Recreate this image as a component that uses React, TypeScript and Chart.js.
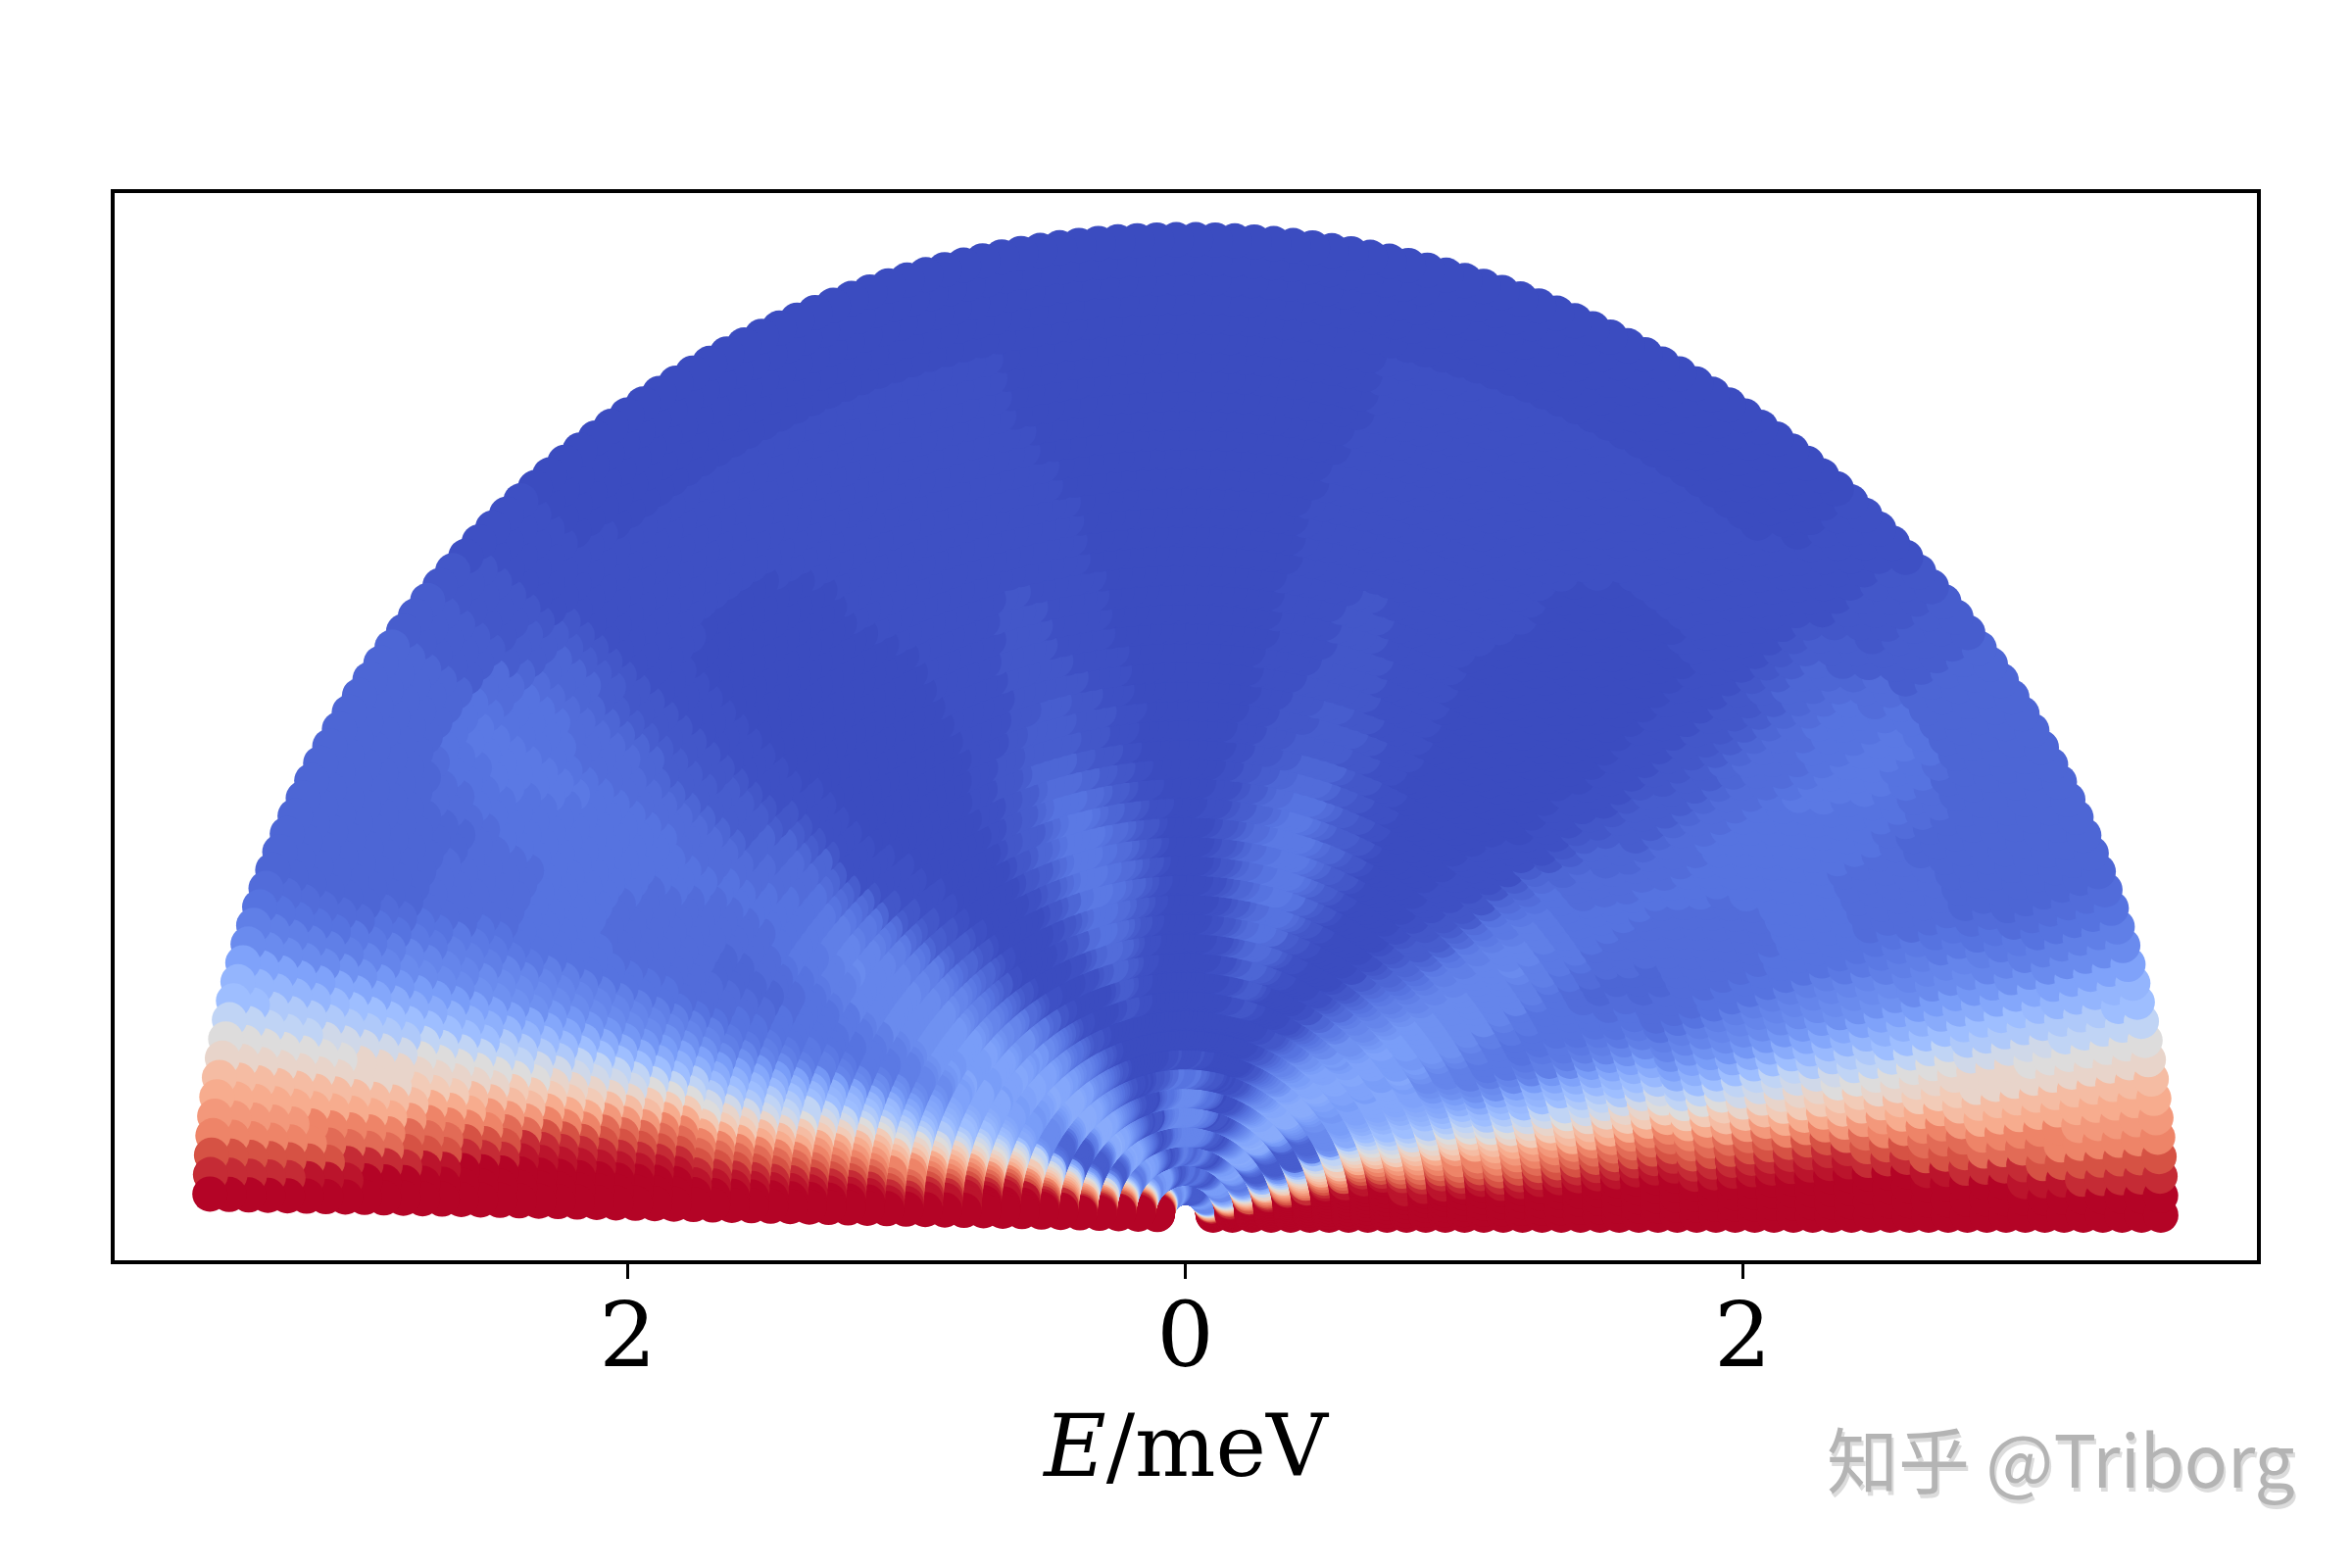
import { useEffect, useRef } from 'react';
import Chart from 'chart.js/auto';

// Polar grid of the scatter, in draw order (energy rings from the inside out, theta along each ring)
const thetas = [
  0, 0.02, 0.04, 0.06, 0.08, 0.1, 0.12, 0.14, 0.16, 0.18, 0.2, 0.22, 0.24, 0.26, 0.28, 0.3, 0.32, 0.34, 0.36, 0.38,
  0.4, 0.42, 0.44, 0.46, 0.48, 0.5, 0.52, 0.54, 0.56, 0.58, 0.6, 0.62, 0.64, 0.66, 0.68, 0.7, 0.72, 0.74, 0.76, 0.78,
  0.8, 0.82, 0.84, 0.86, 0.88, 0.9, 0.92, 0.94, 0.96, 0.98, 1, 1.02, 1.04, 1.06, 1.08, 1.1, 1.12, 1.14, 1.16, 1.18,
  1.2, 1.22, 1.24, 1.26, 1.28, 1.3, 1.32, 1.34, 1.36, 1.38, 1.4, 1.42, 1.44, 1.46, 1.48, 1.5, 1.52, 1.54, 1.56, 1.58,
  1.6, 1.62, 1.64, 1.66, 1.68, 1.7, 1.72, 1.74, 1.76, 1.78, 1.8, 1.82, 1.84, 1.86, 1.88, 1.9, 1.92, 1.94, 1.96, 1.98,
  2, 2.02, 2.04, 2.06, 2.08, 2.1, 2.12, 2.14, 2.16, 2.18, 2.2, 2.22, 2.24, 2.26, 2.28, 2.3, 2.32, 2.34, 2.36, 2.38,
  2.4, 2.42, 2.44, 2.46, 2.48, 2.5, 2.52, 2.54, 2.56, 2.58, 2.6, 2.62, 2.64, 2.66, 2.68, 2.7, 2.72, 2.74, 2.76, 2.78,
  2.8, 2.82, 2.84, 2.86, 2.88, 2.9, 2.92, 2.94, 2.96, 2.98, 3, 3.02, 3.04, 3.06, 3.08, 3.1, 3.12,
];
const energies = [
  0.1, 0.169, 0.239, 0.308, 0.378, 0.447, 0.516, 0.586, 0.655, 0.724, 0.794, 0.863, 0.933, 1.002, 1.071, 1.141, 1.21,
  1.28, 1.349, 1.418, 1.488, 1.557, 1.627, 1.696, 1.765, 1.835, 1.904, 1.973, 2.043, 2.112, 2.182, 2.251, 2.32, 2.39,
  2.459, 2.529, 2.598, 2.667, 2.737, 2.806, 2.876, 2.945, 3.014, 3.084, 3.153, 3.222, 3.292, 3.361, 3.431, 3.5,
];
const xTicks = [-2, 0, 2];

// colour value per level character below
const levelKeys = '0123456789abcdefghijklmnopqrstuvwxyz';
const levelValues = [
  0, 0.01, 0.025, 0.04, 0.06, 0.075, 0.09, 0.105, 0.12, 0.135, 0.15, 0.165, 0.18, 0.195, 0.21, 0.225, 0.24, 0.255,
  0.27, 0.285, 0.3, 0.35, 0.4, 0.45, 0.5, 0.55, 0.6, 0.65, 0.7, 0.75, 0.8, 0.85, 0.9, 0.95, 0.98, 1,
];

// one line per ray from theta = 0 up to the vertical, one level per energy
const rayLevels = [
  'zzzzz zzzzz zzzzz zzzzz zzzzz zzzzz zzzzz zzzzz zzzzz zzzzz',
  'zzzzz zzzzz zzzzz zzzzz zzzzz zzzzz zzzzz zzzzz zzzzz zzzzz',
  'zzzzz zzzzz zzzzz zzzzz zzzzz zzzzz zzzzz zzzzz zzyyy xxxxx',
  'zzzzz zzzzz zzzzz zzzzz zzzzz zzzzz zzzzz zzyyx xxxww wwwww',
  'zzzzz zzzzz yyyyy yyyyy yyyyy yyyyy yyyyx xxwww vvvvu uuuuu',
  'zzzzz zzzzz yyyxx xxxxx xxxxx xxxxx xxxxw wwvvv uuuuu ttttt',
  'zzzzz zzzzz yxxww wwwww wwwww wwwww wwwvv uuuut sssss sssss',
  'zzzyx xyyyy xwwvv vvvvv vvvvv vvvvv uuutt tsssr rrrrr rrrrr',
  'zzyxw xxyyx wvvuu uuuuu uuuuu uuttt sssrr rrqqq ppppp ppppp',
  'zywwv vwwxw vuuuu tttts sssss ssrrr qqqqq ppppp pppoo ooooo',
  'zxwvu uvvwv uttts ssssr rrqqq qqqpp pppoo ooooo nnnnn mmmmm',
  'yxvut tuuvu tssrr rrqqq ppppo ooonn nnnnm mmmmm lllll lllkk',
  'xwuts sstut srqqq qpppo nnnnn mmmmm mmlll lkkkk kkkkj iiiii',
  'xvtrq rrrsr qqppo oonnm mmlll lkkkk kkjji ihhhg ggfff eeeee',
  'wuspp qqqrq ppoon nmmmm llkkj hhggg ggfff eeedd dccbb aaaaa',
  'vtrpo ppqqp onnmm llkkk kjihg eedcc ccccb bbbaa aa998 88888',
  'usqnm noopo nmlll kkjii hgfed bbbaa aaaaa aaa99 99877 66666',
  'urpnl mnnon mllkk jihhf edcba 99999 99999 99888 77665 55555',
  'tqoki klmnm lkkih gfedc aa998 88888 88888 77777 66554 44444',
  'spmid flmml kkigf dba98 88877 66666 66666 66665 55444 44444',
  'solfb dhkkk kjhfd ba988 77766 55566 66666 66555 55444 44444',
  'rnj96 47cgj ihgeb a8777 76666 55555 55666 66555 55444 44444',
  'qmg84 36bgh hgfca 87766 66655 55555 55566 66555 55444 44444',
  'ple53 35afg gfeb9 87766 66655 44555 55566 66555 54444 44444',
  'okb43 34aef ffea9 87766 66544 44555 55566 66555 54444 44444',
  'nja33 34ade ffea9 88777 66544 44555 55566 66666 55554 44444',
  'mh933 34ade ffdba 98877 66555 55555 55666 66666 66554 44444',
  'lf833 34ade ffecb a9887 76655 55555 55666 66666 66665 44444',
  'ie733 34ade fffdc baa99 87665 55555 66666 66666 77666 44444',
  'fd733 35acd dddcc baa99 88776 55556 66666 66677 77776 44444',
  'da844 47bcd eddcc baa99 88776 66666 66666 66777 77776 44444',
  'ca855 7abde edddc baa99 98776 66665 55666 66666 66666 44444',
  'ba866 8bcde eeddc baa99 a9876 66555 55555 55556 66655 33333',
  'aa988 9cdee eeddc baa99 99876 65555 55555 55555 66655 33333',
  'aabaa cdeef feedc baa99 99876 55544 44444 45555 55543 33333',
  'abcdc defff feedc ba999 98876 55443 33333 44444 44433 22222',
  'acdef fgggf eedcb a9988 87766 55443 33333 33333 44433 22222',
  'acdeg ggggf edcba 99888 77655 44433 33222 22223 33332 22221',
  'acdfg gggfe dcba9 98877 66544 43322 22222 22222 22221 11111',
  'acefg gggfe cba98 87765 54433 22221 11111 11111 11111 11111',
  'adfgh gggfe dba98 76544 32211 11111 11111 11111 11111 11111',
  'adefg gggfe cb987 65433 22111 11111 11111 11111 11111 11111',
  'bdefg gffed cb976 54332 21111 11110 00000 00011 11111 10000',
  'bdeff ffedc a9865 44322 11111 00000 00000 00011 11111 10000',
  'cdeff ffedb a8754 43321 11110 00000 00000 00001 11111 00000',
  'cddff feecb 97543 32211 11100 00000 00000 00001 11111 00000',
  'cddee edcba 87533 22111 10000 00000 00000 00001 11111 00000',
  'ddddd dcba8 75421 11100 00000 00000 00000 00001 11111 00000',
  'ddccc cba97 64321 10000 00000 00000 00000 00001 11111 00000',
  'dcbbb bba96 54210 00000 00000 00000 00000 00001 11111 00000',
  'dbaaa aa986 42100 00000 00000 00000 00000 00011 11111 00000',
  'd9999 99875 32100 00000 00000 00000 00000 00011 11111 00000',
  'c8888 88764 21100 00000 00000 00000 00000 00111 11111 00000',
  'b7777 77653 11000 00000 00000 00000 00001 11111 11111 00000',
  'b6666 66542 10000 00000 00000 00000 00011 11111 11111 00000',
  'a5555 55432 10000 00111 11110 00000 00111 11111 11111 00000',
  '95444 44332 00001 11122 21111 11111 11111 11111 11111 00000',
  '94333 33221 00011 12222 22111 11111 11111 11111 11111 00000',
  '83322 22211 00112 22333 32221 11111 11111 11111 11111 00000',
  '73222 22110 00112 23334 33222 11111 11111 11111 11111 00000',
  '72111 11000 00123 34444 33322 21111 11111 11111 11111 00000',
  '62222 11000 00233 44555 44332 22111 11111 11111 11111 00000',
  '53222 11000 11345 56666 55443 32222 11111 11111 11111 00000',
  '53332 10000 12345 66777 66543 32222 22111 11111 11111 00000',
  '43332 11000 23456 67777 76543 33222 22211 11111 11111 00000',
  '33331 00000 23456 67777 76543 33222 22211 11111 11111 00000',
  '34445 31000 23456 67777 76543 33222 22111 11111 11111 00000',
  '34566 42000 12345 56667 65433 22221 11111 11111 11111 00000',
  '35677 52000 11345 56666 55432 22211 11111 11111 10000 00000',
  '35777 62000 11234 45555 44322 22111 11111 11110 00000 00000',
  '36888 63000 01123 34555 43322 21111 11111 11000 00000 00000',
  '36889 63000 00112 34444 33221 11111 11100 00000 00000 00000',
  '36899 74100 00112 23333 32211 11110 00000 00000 00000 00000',
  '3679a 85100 00011 12222 21111 10000 00000 00000 00000 00000',
  '3669a 95100 00001 11222 11100 00000 00000 00000 00000 00000',
  '3669a a7200 00000 01111 11000 00000 00000 00000 00000 00000',
  '3569a a7100 00000 00000 10000 00000 00000 00000 00000 00000',
  '3459a a6100 00000 00000 00000 00000 00000 00000 00000 00000',
  '3449a a6100 00000 00000 00000 00000 00000 00000 00000 00000',
];

// rays by which each ring sits turned anticlockwise against the mirrored table
const ringTurn = [
  5, 5, 5, 5, 5, 4, 4, 3, 3, 3, 2, 2, 2, 2, 2, 1, 1, 1, 1, 1, 1, 1, 1, 1, 1,
  0, 0, 0, 0, 0, 0, 0, 0, 0, 0, 0, 0, 0, 0, 0, 0, 0, 0, 0, 0, 0, 0, 0, 0, 0,
];

// matplotlib coolwarm, 11 stops
const coolwarm = [
  [59, 76, 192], [89, 119, 227], [123, 159, 249], [158, 190, 255], [192, 212, 245], [221, 220, 220],
  [242, 203, 183], [247, 172, 142], [238, 132, 104], [214, 82, 68], [180, 4, 38],
];

function colorOf(v: number) {
  const p = v * 10;
  const k = Math.min(Math.floor(p), 9);
  const t = p - k;
  const c = coolwarm[k].map((a, n) => Math.round(a + (coolwarm[k + 1][n] - a) * t));
  return `rgb(${c[0]},${c[1]},${c[2]})`;
}

// the left half mirrors the right one, so theta index i reuses ray 157 - i
function levelAt(i: number, j: number, rays: string[]) {
  const k = Math.max(i - ringTurn[j], 0);
  return rays[k < rays.length ? k : thetas.length - k][j];
}

const framePlugin = {
  id: 'frame',
  afterDraw(chart: any) {
    const { ctx, chartArea: a } = chart;
    ctx.save();
    ctx.strokeStyle = '#000';
    ctx.lineWidth = 4;
    ctx.strokeRect(a.left, a.top, a.right - a.left, a.bottom - a.top);
    ctx.restore();
  },
};

export default function App() {
  const canvasRef = useRef<HTMLCanvasElement>(null);

  useEffect(() => {
    if (!canvasRef.current) return;

    const rays = rayLevels.map((line) => line.replace(/ /g, ''));
    const points: { x: number; y: number }[] = [];
    const colors: string[] = [];
    energies.forEach((e, j) => {
      thetas.forEach((theta, i) => {
        points.push({ x: e * Math.cos(theta), y: e * Math.sin(theta) });
        colors.push(colorOf(levelValues[levelKeys.indexOf(levelAt(i, j, rays))]));
      });
    });

    const chart = new Chart(canvasRef.current, {
      type: 'scatter',
      data: {
        datasets: [{
          data: points,
          pointRadius: 18,
          pointBorderWidth: 0,
          pointBackgroundColor: colors,
          clip: false,
        }],
      },
      options: {
        animation: false,
        responsive: false,
        devicePixelRatio: 1,
        layout: { padding: { left: 115, right: 95, top: 195, bottom: 0 } },
        plugins: { legend: { display: false }, tooltip: { enabled: false } },
        scales: {
          x: {
            type: 'linear',
            min: -3.848,
            max: 3.852,
            afterFit: (box: any) => { box.height = 312; },
            afterBuildTicks: (axis: any) => { axis.ticks = xTicks.map((value) => ({ value })); },
            border: { display: false },
            grid: { drawOnChartArea: false, drawTicks: true, tickLength: 17, color: '#000', lineWidth: 3 },
            ticks: {
              callback: (v: any) => String(Math.abs(Number(v))),
              color: '#000',
              padding: 10,
              maxRotation: 0,
              autoSkip: false,
              font: { family: '"DejaVu Serif"', size: 92 },
            },
          },
          y: { type: 'linear', min: -0.169, max: 3.674, display: false },
        },
      },
      plugins: [framePlugin],
    });

    return () => chart.destroy();
  }, []);

  return (
    <div style={{ position: 'fixed', left: 0, top: 0, width: 2400, height: 1600, background: '#fff', overflow: 'hidden' }}>
      <canvas ref={canvasRef} width={2400} height={1600} style={{ display: 'block' }} />
      <div style={{ position: 'absolute', left: 1010, width: 400, top: 1422, textAlign: 'center', fontFamily: '"DejaVu Serif"', fontSize: 87, lineHeight: '108px', color: '#000' }}>
        <i>E</i>/meV
      </div>
      <div style={{ position: 'absolute', left: 1864, top: 1441, fontFamily: '"Noto Sans CJK SC"', fontSize: 73, lineHeight: '90px', color: '#b4b4b4', whiteSpace: 'nowrap', textShadow: '2px 4px 0 #dcdcdc' }}>
        知乎 @Triborg
      </div>
    </div>
  );
}
